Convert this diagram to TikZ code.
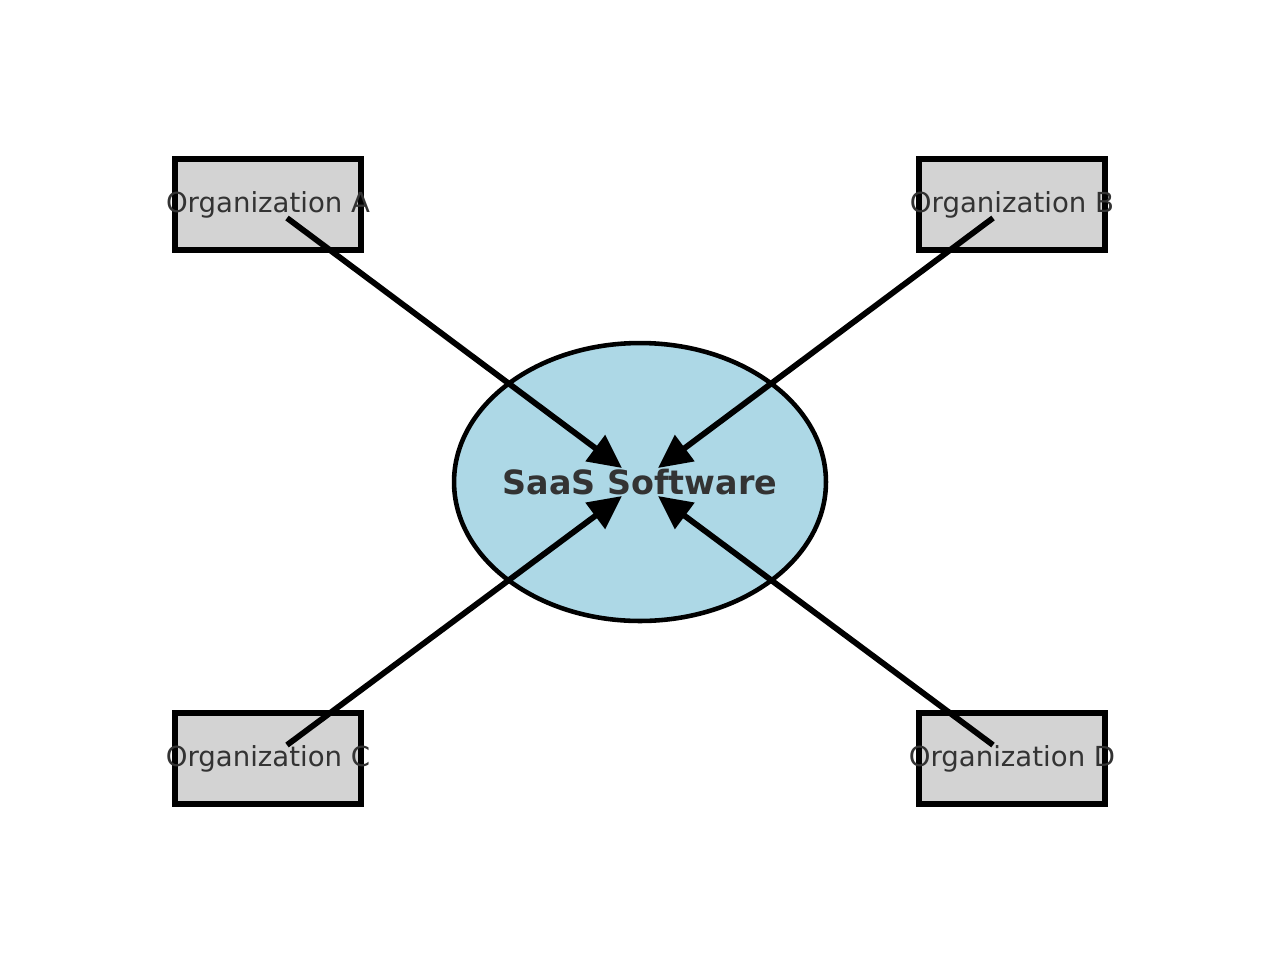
\documentclass[tikz,border=0pt]{standalone}
\usepackage{fontspec}
\setmainfont{DejaVu Sans}
\usetikzlibrary{arrows.meta,shapes.geometric}
\definecolor{txtgray}{HTML}{333333}
\definecolor{boxgray}{HTML}{D3D3D3}
\definecolor{saasblue}{HTML}{ADD8E6}
\begin{document}
\begin{tikzpicture}
    [x=0.02cm,y=-0.02cm,
     orgbox/.style={draw,line width=3pt,fill=boxgray,minimum width=3.72cm,minimum height=1.82cm,inner sep=0pt},
     orglabel/.style={text=txtgray,font=\fontsize{15.7}{18}\selectfont},
     link/.style={line width=3.3pt,-{Triangle[length=19pt,width=18pt]}}]
    \useasboundingbox (0,0) rectangle (1280,964);

    \node[ellipse,draw,line width=2.6pt,fill=saasblue,minimum width=7.44cm,minimum height=5.56cm] (saas) at (640,482) {};

    \node[orgbox] (orgA) at (268,204.5) {};
    \node[orgbox] (orgB) at (1012,204.5) {};
    \node[orgbox] (orgC) at (268,758.5) {};
    \node[orgbox] (orgD) at (1012,758.5) {};

    \coordinate (sA) at (287,218);
    \coordinate (sB) at (993,218);
    \coordinate (sC) at (287,745);
    \coordinate (sD) at (993,745);
    \coordinate (tA) at (622,468);
    \coordinate (tB) at (658,468);
    \coordinate (tC) at (622,496);
    \coordinate (tD) at (658,496);

    \draw[link] (sA) -- (tA);
    \draw[link] (sB) -- (tB);
    \draw[link] (sC) -- (tC);
    \draw[link] (sD) -- (tD);

    \node[orglabel] (labA) at (orgA) {Organization A};
    \node[orglabel] (labB) at (orgB) {Organization B};
    \node[orglabel] (labC) at (orgC) {Organization C};
    \node[orglabel] (labD) at (orgD) {Organization D};
    \node[text=txtgray,font=\bfseries\fontsize{19}{22}\selectfont] (saaslab) at (saas) {SaaS Software};
\end{tikzpicture}
\end{document}
